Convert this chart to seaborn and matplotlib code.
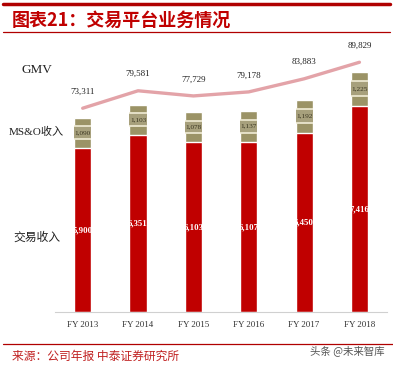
import numpy as np
import pandas as pd
import seaborn as sns
import matplotlib.pyplot as plt
from matplotlib.lines import Line2D

years = ['FY 2013', 'FY 2014', 'FY 2015', 'FY 2016', 'FY 2017', 'FY 2018']
trade_rev = [5900, 6351, 6103, 6107, 6450, 7416]
mso_rev = [1090, 1103, 1078, 1137, 1192, 1225]
gmv = [73311, 79581, 77729, 79178, 83883, 89829]

RED = '#c00000'
OLIVE = '#9b9366'
LINE = '#e3a3a8'
SERIF = ['Liberation Serif', 'Noto Sans CJK SC']

sns.set_theme(style='white')
plt.rcParams['font.family'] = ['Liberation Serif', 'Noto Sans CJK SC', 'DejaVu Sans']

df = pd.DataFrame({'year': years, 'trade': trade_rev, 'mso': mso_rev, 'gmv': gmv})
df['total'] = df['trade'] + df['mso']

fig = plt.figure(figsize=(3.93, 3.66), dpi=100)
ax = fig.add_axes([0.14, 0.147, 0.845, 0.745])

# olive total first, red on top of it
sns.barplot(data=df, x='year', y='total', color=OLIVE, width=0.31, saturation=1, ax=ax)
sns.barplot(data=df, x='year', y='trade', color=RED, width=0.31, saturation=1, ax=ax)
ax.set_ylim(0, 9800)
ax.set_xlim(-0.5, 5.5)

olive_bars = ax.patches[:len(years)]
for i, row in df.iterrows():
    p = olive_bars[i]
    x0, x1 = p.get_x(), p.get_x() + p.get_width()
    # pale stripes framing the label inside the olive segment
    lo = row['trade'] + row['mso'] * 0.3
    hi = row['trade'] + row['mso'] * 0.72
    ax.fill_between([x0, x1], lo, hi, color='#a7a07c', lw=0, zorder=3)
    ax.hlines([lo, hi], x0, x1, color='#f1ecd6', lw=1.2, zorder=4)
    ax.text(i, row['trade'] / 2, f"{row['trade']:,}", ha='center', va='center',
            color='white', fontsize=6.3, fontweight='bold', family=SERIF, zorder=5)
    ax.text(i, (lo + hi) / 2, f"{row['mso']:,}", ha='center', va='center',
            color='#3a3520', fontsize=5.2, family=SERIF, zorder=5)

# GMV on its own scale (x10)
ax2 = ax.twinx()
ax2.set_ylim(0, 98000)
sns.lineplot(x=np.arange(len(years)), y=df['gmv'], color=LINE, lw=2.4, ax=ax2)
for i, v in enumerate(gmv):
    ax2.annotate(f"{v:,}", (i, v), xytext=(0, 9), textcoords='offset points',
                 ha='center', va='bottom', fontsize=6.5, color='#222222', family=SERIF)
ax2.set_axis_off()

ax.set_xlabel('')
ax.set_ylabel('')
ax.set_yticks([])
ax.tick_params(axis='x', length=0, pad=6, labelsize=6.5, labelcolor='#333333')
for s in ['top', 'right', 'left']:
    ax.spines[s].set_visible(False)
ax.spines['bottom'].set_color('#d0d0d0')
ax.spines['bottom'].set_linewidth(0.8)

# series names on the left
fig.text(37 / 393, 1 - 70 / 366, 'GMV', ha='center', va='center', fontsize=9.5, family=SERIF, color='#222222')
fig.text(36 / 393, 1 - 132 / 366, 'MS&O收入', ha='center', va='center', fontsize=8, family=SERIF, color='#222222')
fig.text(37 / 393, 1 - 238 / 366, '交易收入', ha='center', va='center', fontsize=8.5, family=SERIF, color='#222222')

# header and footer
fig.add_artist(Line2D([0.008, 0.992], [1 - 4 / 366, 1 - 4 / 366], color='#b00000', lw=2.5))
fig.text(12 / 393, 1 - 20 / 366, '图表21：交易平台业务情况', ha='left', va='center',
         fontsize=13, fontweight='bold', style='italic', color='#c00000',
         family=['Noto Sans CJK SC', 'DejaVu Sans'])
fig.add_artist(Line2D([0.008, 0.992], [1 - 32 / 366, 1 - 32 / 366], color='#b00000', lw=0.9))
fig.add_artist(Line2D([0.008, 1.0], [1 - 344 / 366, 1 - 344 / 366], color='#b00000', lw=0.9))
fig.text(12 / 393, 1 - 356 / 366, '来源：公司年报 中泰证券研究所', ha='left', va='center',
         fontsize=8.5, color='#c02020', family=['Noto Sans CJK SC', 'DejaVu Sans'])
fig.text(385 / 393, 1 - 351 / 366, '头条 @未来智库', ha='right', va='center',
         fontsize=7.5, color='#555555', family=['Noto Sans CJK SC', 'DejaVu Sans'])

fig.savefig('out.png', dpi=100)
